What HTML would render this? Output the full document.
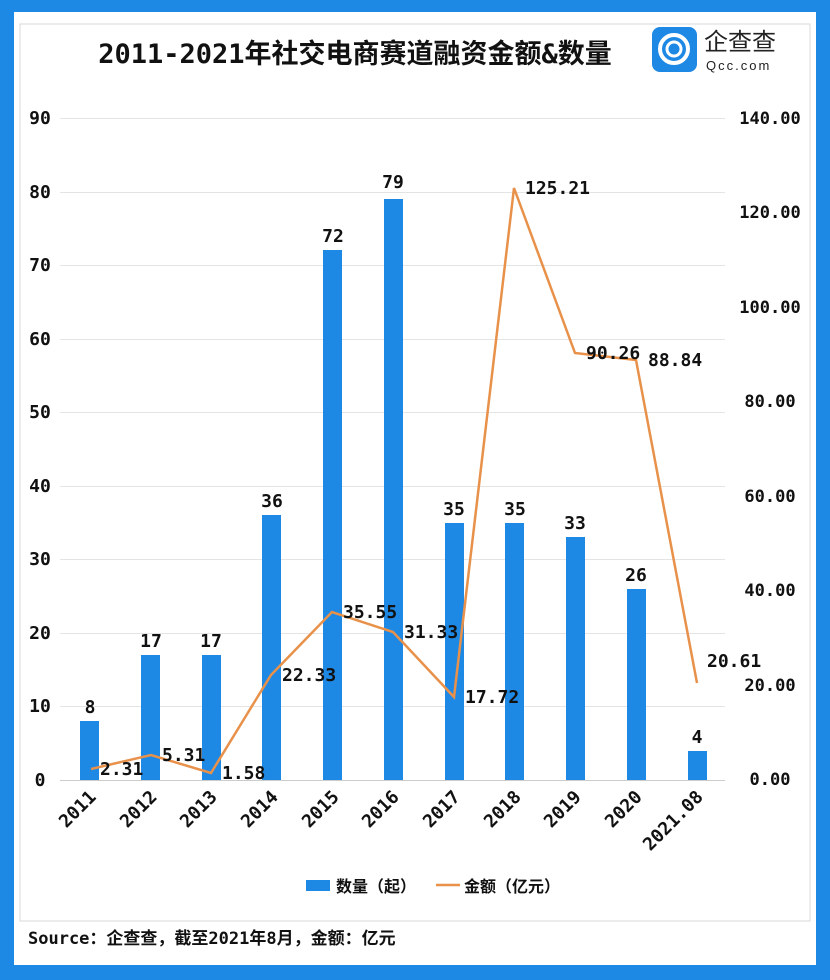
<!DOCTYPE html>
<html><head><meta charset="utf-8"><style>
body{margin:0;width:830px;height:980px;overflow:hidden;background:#1e88e5;}
</style></head><body>
<svg width="830" height="980" xmlns="http://www.w3.org/2000/svg" style="position:absolute;left:0;top:0;font-family:'DejaVu Sans Mono','Noto Sans CJK SC',monospace;font-weight:bold">
<rect x="14" y="12" width="802" height="953" fill="#fff"/>
<rect x="20" y="24" width="790" height="897" fill="none" stroke="#d8d8d8" stroke-width="1"/>
<text x="355" y="63" font-size="27" text-anchor="middle" fill="#111">2011-2021年社交电商赛道融资金额&amp;数量</text>
<rect x="652" y="27" width="45" height="45" rx="8" fill="#1e88e5"/>
<circle cx="674" cy="49" r="14" fill="none" stroke="#fff" stroke-width="4"/>
<circle cx="674" cy="49" r="7" fill="none" stroke="#fff" stroke-width="3"/>
<text x="704" y="50" font-size="24" font-weight="normal" fill="#222" font-family="'Noto Sans CJK SC',sans-serif">企查查</text>
<text x="706" y="70" font-size="13" font-weight="normal" fill="#222" letter-spacing="2" font-family="'Liberation Sans',sans-serif">Qcc.com</text>
<g stroke="#e4e4e4" stroke-width="1">
<line x1="60" x2="725" y1="118.5" y2="118.5"/><line x1="60" x2="725" y1="192.5" y2="192.5"/><line x1="60" x2="725" y1="265.5" y2="265.5"/><line x1="60" x2="725" y1="339.5" y2="339.5"/><line x1="60" x2="725" y1="412.5" y2="412.5"/><line x1="60" x2="725" y1="486.5" y2="486.5"/><line x1="60" x2="725" y1="559.5" y2="559.5"/><line x1="60" x2="725" y1="633.5" y2="633.5"/><line x1="60" x2="725" y1="706.5" y2="706.5"/><line x1="60" x2="725" y1="780.5" y2="780.5" stroke="#ccc"/>
</g>
<g font-size="18" fill="#111" text-anchor="middle">
<text x="40" y="124">90</text><text x="40" y="198">80</text><text x="40" y="271">70</text><text x="40" y="345">60</text><text x="40" y="418">50</text><text x="40" y="492">40</text><text x="40" y="565">30</text><text x="40" y="639">20</text><text x="40" y="712">10</text><text x="40" y="786">0</text>
</g>
<g font-size="17" fill="#111" text-anchor="middle">
<text x="770" y="124">140.00</text><text x="770" y="218">120.00</text><text x="770" y="313">100.00</text><text x="770" y="407">80.00</text><text x="770" y="502">60.00</text><text x="770" y="596">40.00</text><text x="770" y="691">20.00</text><text x="770" y="785">0.00</text>
</g>
<g fill="#1e88e5">
<rect x="80" y="721" width="19" height="59"/>
<rect x="141" y="655" width="19" height="125"/>
<rect x="202" y="655" width="19" height="125"/>
<rect x="262" y="515" width="19" height="265"/>
<rect x="323" y="250" width="19" height="530"/>
<rect x="384" y="199" width="19" height="581"/>
<rect x="445" y="523" width="19" height="257"/>
<rect x="505" y="523" width="19" height="257"/>
<rect x="566" y="537" width="19" height="243"/>
<rect x="627" y="589" width="19" height="191"/>
<rect x="688" y="751" width="19" height="29"/>
</g>
<g font-size="18" fill="#111" text-anchor="middle">
<text x="90" y="713">8</text><text x="151" y="647">17</text><text x="211" y="647">17</text><text x="272" y="507">36</text><text x="333" y="242">72</text><text x="393" y="188">79</text><text x="454" y="515">35</text><text x="515" y="515">35</text><text x="575" y="529">33</text><text x="636" y="581">26</text><text x="697" y="743">4</text>
</g>
<polyline fill="none" stroke="#e8914a" stroke-width="2.5" points="91,769 151,755 211,773 271,675 332,612 393,632 454,697 514,188 575,353 636,360 697,683"/>
<g font-size="18" fill="#111">
<text x="100" y="775">2.31</text><text x="162" y="761">5.31</text><text x="222" y="779">1.58</text><text x="282" y="681">22.33</text><text x="343" y="618">35.55</text><text x="404" y="638">31.33</text><text x="465" y="703">17.72</text><text x="525" y="194">125.21</text><text x="586" y="359">90.26</text><text x="648" y="366">88.84</text><text x="707" y="667">20.61</text>
</g>
<g font-size="18" fill="#111" text-anchor="end">
<text transform="translate(97,798) rotate(-45)">2011</text>
<text transform="translate(158,798) rotate(-45)">2012</text>
<text transform="translate(218,798) rotate(-45)">2013</text>
<text transform="translate(279,798) rotate(-45)">2014</text>
<text transform="translate(340,798) rotate(-45)">2015</text>
<text transform="translate(400,798) rotate(-45)">2016</text>
<text transform="translate(461,798) rotate(-45)">2017</text>
<text transform="translate(522,798) rotate(-45)">2018</text>
<text transform="translate(582,798) rotate(-45)">2019</text>
<text transform="translate(643,798) rotate(-45)">2020</text>
<text transform="translate(704,798) rotate(-45)">2021.08</text>
</g>
<rect x="306" y="880" width="24" height="11" fill="#1e88e5"/>
<text x="336" y="892" font-size="16" fill="#111">数量（起）</text>
<line x1="436" x2="460" y1="885" y2="885" stroke="#e8914a" stroke-width="2.5"/>
<text x="464" y="892" font-size="16" fill="#111">金额（亿元）</text>
<text x="28" y="944" font-size="17" fill="#111">Source：企查查，截至2021年8月，金额：亿元</text>
</svg>
</body></html>
